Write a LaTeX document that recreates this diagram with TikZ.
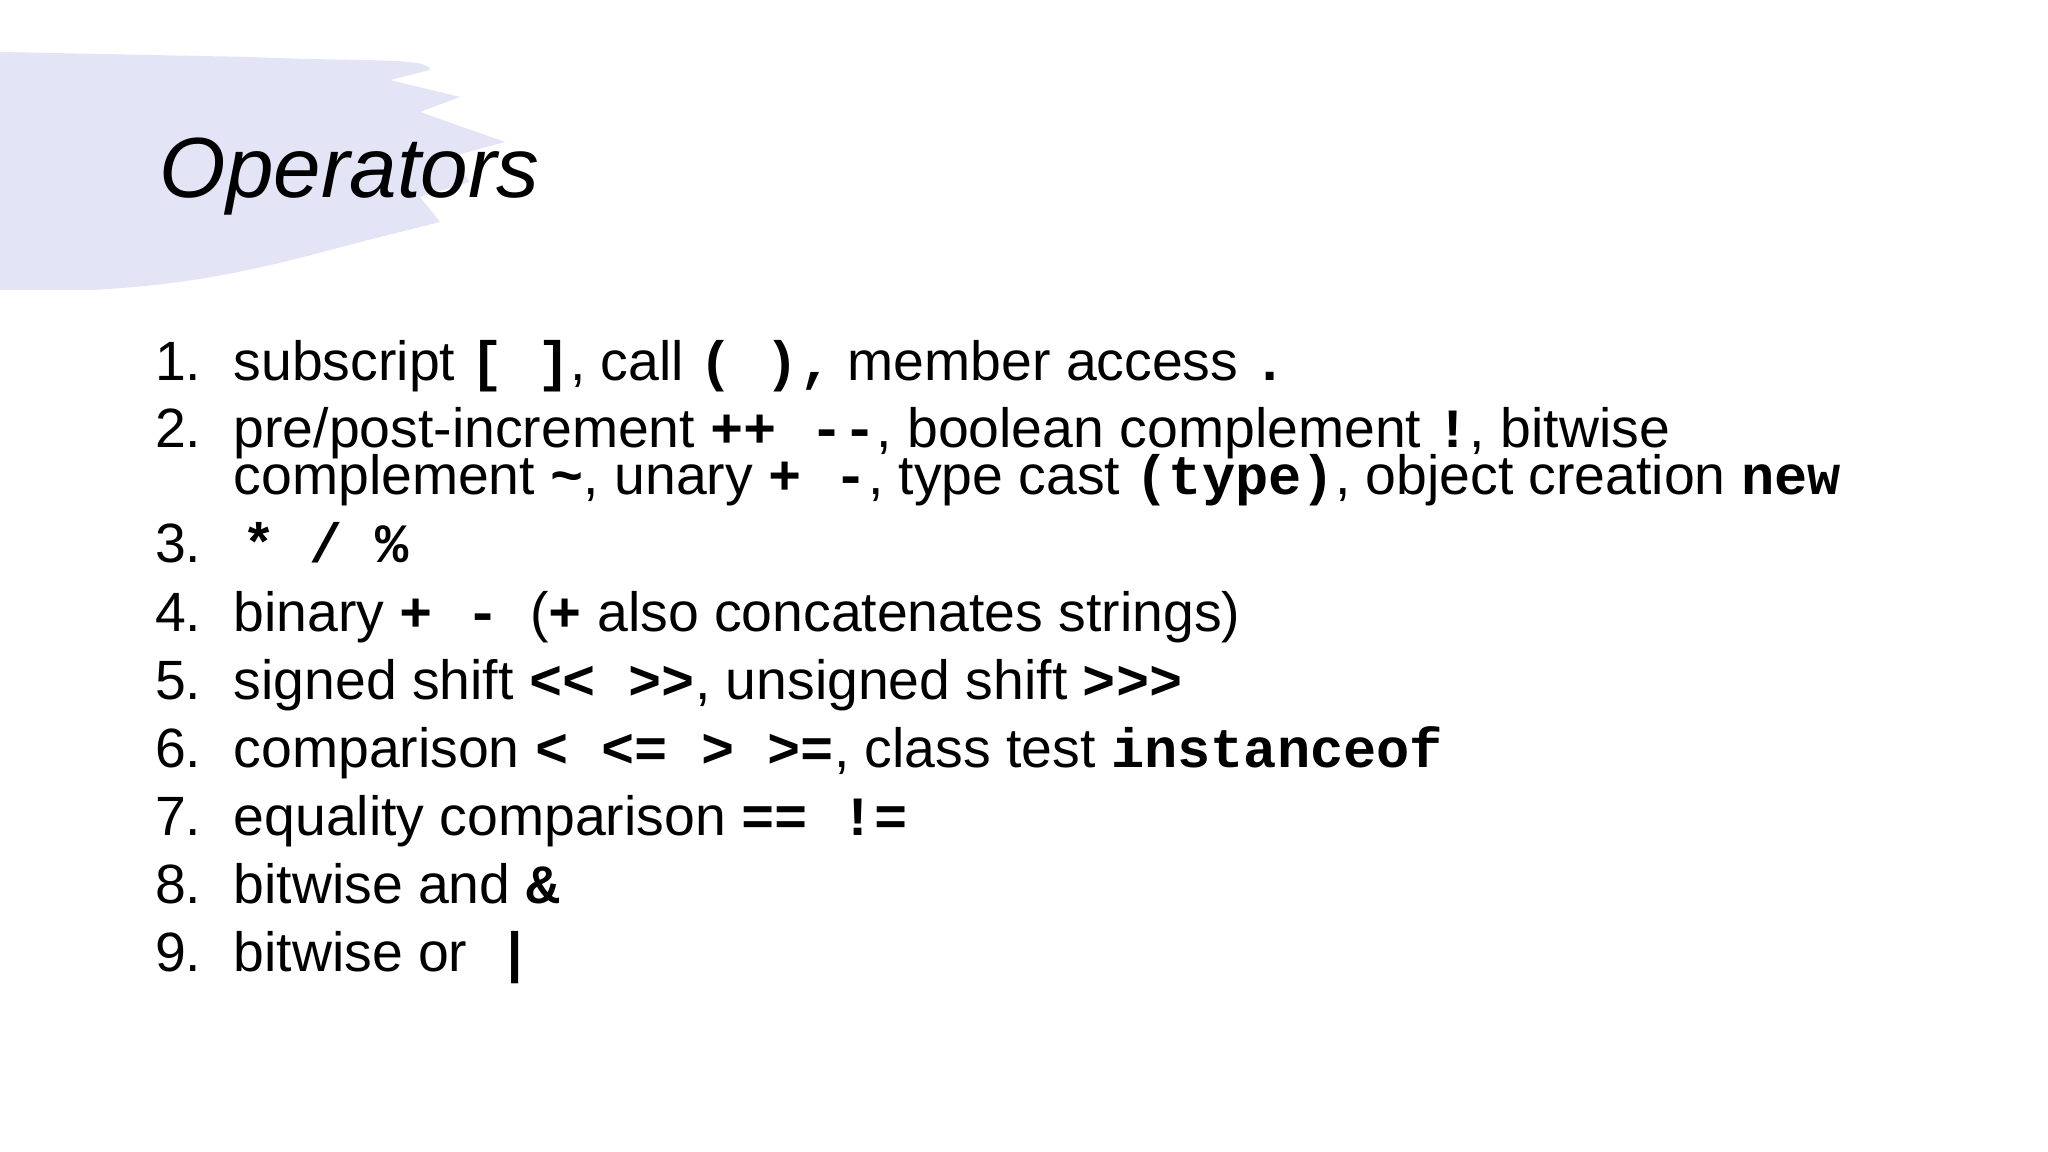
\documentclass[tikz,border=0pt]{standalone}
\usepackage{fontspec}
\setmainfont{Liberation Sans}
\newfontfamily\cmono{Liberation Mono}
\definecolor{brush}{HTML}{E3E5F7}
\tikzset{
  num/.style={anchor=base east,font=\fontsize{15.75}{18}\selectfont,inner sep=0pt},
  item/.style={anchor=base west,font=\fontsize{15.75}{18}\selectfont,inner sep=0pt,align=left},
}
\newcommand{\cc}[1]{{\cmono\bfseries #1}}
\begin{document}
\begin{tikzpicture}[x=1cm,y=1cm]
\useasboundingbox (0,0) rectangle (20.48,11.52);
\fill[white] (0,0) rectangle (20.48,11.52);
\fill[brush] (0,11.0) -- (2.5,10.95) .. controls (3.6,10.9) and (4.3,10.95) .. (4.3,10.82)
  -- (3.9,10.72) -- (4.6,10.55) -- (4.2,10.4) -- (5.05,10.1) -- (4.5,9.95) -- (4.7,9.7)
  -- (4.2,9.55) -- (4.4,9.3) -- (3.8,9.15) .. controls (3.0,8.95) and (2.2,8.68) .. (0.9,8.62)
  -- (0,8.62) -- cycle;
\node[anchor=base west,inner sep=0pt,font=\fontsize{24.3}{28}\selectfont\itshape] (title) at (1.59,9.54) {Operators};
\foreach \n/\y in {1/3.81,2/4.48,3/5.63,4/6.32,5/7.00,6/7.68,7/8.36,8/9.04,9/9.72}{
  \node[num] (n\n) at (2.02,11.52-\y) {\n.};
}
\node[item] (i1) at (2.33,11.52-3.81) {subscript \cc{[ ]}, call \cc{( ),} member access \cc{.}};
\node[item] (i2a) at (2.33,11.52-4.48) {pre/post-increment \cc{++ --}, boolean complement \cc{!}, bitwise};
\node[item] (i2b) at (2.33,11.52-4.95) {complement \cc{\string~}, unary \cc{+ -}, type cast \cc{(type)}, object creation \cc{new}};
\node[item] (i3) at (2.33,11.52-5.63) {\,\cc{* / \%}};
\node[item] (i4) at (2.33,11.52-6.32) {binary \cc{+ -} \ (\cc{+} also concatenates strings)};
\node[item] (i5) at (2.33,11.52-7.00) {signed shift \cc{<< >>}, unsigned shift \cc{>>>}};
\node[item] (i6) at (2.33,11.52-7.68) {comparison \cc{< <= > >=}, class test \cc{instanceof}};
\node[item] (i7) at (2.33,11.52-8.36) {equality comparison \cc{== !=}};
\node[item] (i8) at (2.33,11.52-9.04) {bitwise and \cc{\&}};
\node[item] (i9) at (2.33,11.52-9.72) {bitwise or \ \cc{|}};
\end{tikzpicture}
\end{document}
